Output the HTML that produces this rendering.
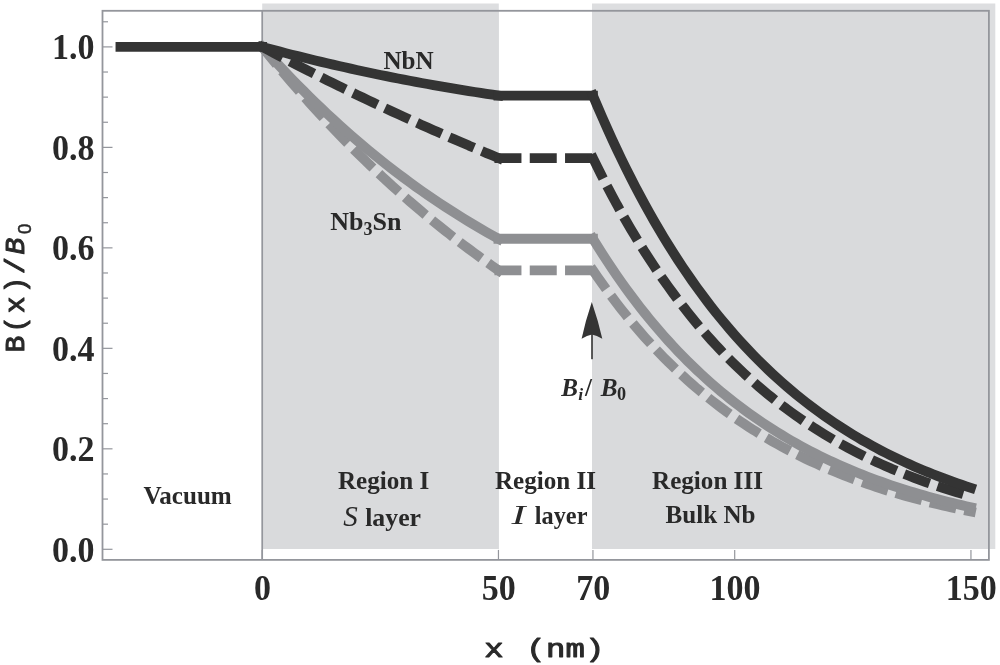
<!DOCTYPE html>
<html lang="en">
<head>
<meta charset="utf-8">
<title>B(x)/B0 field profile</title>
<style>
html,body{margin:0;padding:0;background:#fff;}
body{width:1000px;height:665px;overflow:hidden;}
svg{display:block;filter:blur(0.7px);}
</style>
</head>
<body>
<svg width="1000" height="665" viewBox="0 0 1000 665">
<rect x="0" y="0" width="1000" height="665" fill="#ffffff"/>
<!-- shaded regions -->
<rect x="262.2" y="3.5" width="236.6" height="545.5" fill="#dddee0"/>
<rect x="592.0" y="3.5" width="403.3" height="545.5" fill="#dddee0"/>
<rect x="262.2" y="10.8" width="236.6" height="538.2" fill="#d9dadc"/>
<rect x="592.0" y="10.8" width="396.9" height="538.2" fill="#d9dadc"/>
<!-- frame -->
<rect x="102.5" y="10.8" width="886.4" height="549.1" fill="none" stroke="#94969c" stroke-width="1.8"/>
<line x1="262.2" y1="10.8" x2="262.2" y2="559.9" stroke="#94969c" stroke-width="1.7"/>
<g stroke="#94969c" stroke-width="1.2">
<line x1="102.5" y1="549.30" x2="112.5" y2="549.30"/>
<line x1="102.5" y1="524.18" x2="108.0" y2="524.18"/>
<line x1="102.5" y1="499.06" x2="108.0" y2="499.06"/>
<line x1="102.5" y1="473.94" x2="108.0" y2="473.94"/>
<line x1="102.5" y1="448.82" x2="112.5" y2="448.82"/>
<line x1="102.5" y1="423.70" x2="108.0" y2="423.70"/>
<line x1="102.5" y1="398.58" x2="108.0" y2="398.58"/>
<line x1="102.5" y1="373.46" x2="108.0" y2="373.46"/>
<line x1="102.5" y1="348.34" x2="112.5" y2="348.34"/>
<line x1="102.5" y1="323.22" x2="108.0" y2="323.22"/>
<line x1="102.5" y1="298.10" x2="108.0" y2="298.10"/>
<line x1="102.5" y1="272.98" x2="108.0" y2="272.98"/>
<line x1="102.5" y1="247.86" x2="112.5" y2="247.86"/>
<line x1="102.5" y1="222.74" x2="108.0" y2="222.74"/>
<line x1="102.5" y1="197.62" x2="108.0" y2="197.62"/>
<line x1="102.5" y1="172.50" x2="108.0" y2="172.50"/>
<line x1="102.5" y1="147.38" x2="112.5" y2="147.38"/>
<line x1="102.5" y1="122.26" x2="108.0" y2="122.26"/>
<line x1="102.5" y1="97.14" x2="108.0" y2="97.14"/>
<line x1="102.5" y1="72.02" x2="108.0" y2="72.02"/>
<line x1="102.5" y1="46.90" x2="112.5" y2="46.90"/>
<line x1="102.5" y1="21.78" x2="108.0" y2="21.78"/>
<line x1="262.20" y1="559.9" x2="262.20" y2="549.9"/>
<line x1="498.45" y1="559.9" x2="498.45" y2="549.9"/>
<line x1="592.95" y1="559.9" x2="592.95" y2="549.9"/>
<line x1="734.70" y1="559.9" x2="734.70" y2="549.9"/>
<line x1="970.95" y1="559.9" x2="970.95" y2="549.9"/>
</g>
<g fill="none" stroke-width="9.80" stroke-linecap="square" stroke-linejoin="miter">
<path d="M262.20 46.90 L268.11 54.23 L274.01 61.46 L279.92 68.58 L285.82 75.60 L291.73 82.52 L297.64 89.33 L303.54 96.04 L309.45 102.66 L315.36 109.18 L321.26 115.61 L327.17 121.94 L333.07 128.18 L338.98 134.32 L344.89 140.38 L350.79 146.35 L356.70 152.23 L362.61 158.03 L368.51 163.74 L374.42 169.37 L380.32 174.92 L386.23 180.38 L392.14 185.77 L398.04 191.07 L403.95 196.30 L409.86 201.46 L415.76 206.54 L421.67 211.54 L427.57 216.47 L433.48 221.33 L439.39 226.12 L445.29 230.83 L451.20 235.48 L457.11 240.06 L463.01 244.58 L468.92 249.03 L474.82 253.41 L480.73 257.73 L486.64 261.99 L492.54 266.18 L498.45 270.31" stroke="#8e8f92" stroke-dasharray="17.2 18.1" stroke-dashoffset="-0.9"/>
<path d="M498.45 270.31 L592.95 270.31" stroke="#8e8f92" stroke-dasharray="17.2 18.1" stroke-dashoffset="-0.9"/>
<path d="M592.95 270.31 L597.67 277.20 L602.40 283.92 L607.12 290.47 L611.85 296.86 L616.58 303.10 L621.30 309.17 L626.02 315.10 L630.75 320.89 L635.47 326.53 L640.20 332.03 L644.92 337.39 L649.65 342.62 L654.38 347.73 L659.10 352.70 L663.82 357.56 L668.55 362.29 L673.27 366.91 L678.00 371.41 L682.72 375.80 L687.45 380.09 L692.17 384.26 L696.90 388.34 L701.62 392.31 L706.35 396.19 L711.07 399.97 L715.80 403.66 L720.52 407.25 L725.25 410.76 L729.97 414.18 L734.70 417.52 L739.42 420.77 L744.15 423.94 L748.88 427.04 L753.60 430.06 L758.32 433.00 L763.05 435.87 L767.77 438.67 L772.50 441.40 L777.22 444.07 L781.95 446.67 L786.67 449.20 L791.40 451.67 L796.12 454.08 L800.85 456.43 L805.58 458.73 L810.30 460.96 L815.02 463.14 L819.75 465.27 L824.47 467.35 L829.20 469.37 L833.92 471.34 L838.65 473.27 L843.38 475.14 L848.10 476.98 L852.83 478.76 L857.55 480.50 L862.27 482.20 L867.00 483.86 L871.72 485.47 L876.45 487.05 L881.17 488.59 L885.90 490.09 L890.62 491.55 L895.35 492.97 L900.08 494.36 L904.80 495.72 L909.52 497.04 L914.25 498.33 L918.97 499.59 L923.70 500.82 L928.42 502.02 L933.15 503.18 L937.88 504.32 L942.60 505.43 L947.33 506.52 L952.05 507.57 L956.77 508.60 L961.50 509.61 L966.22 510.59 L970.95 511.54" stroke="#8e8f92" stroke-dasharray="17.2 18.1" stroke-dashoffset="-0.9"/>
<path d="M262.20 46.90 L268.11 53.49 L274.01 59.97 L279.92 66.34 L285.82 72.62 L291.73 78.78 L297.64 84.85 L303.54 90.81 L309.45 96.68 L315.36 102.45 L321.26 108.12 L327.17 113.70 L333.07 119.18 L338.98 124.57 L344.89 129.86 L350.79 135.07 L356.70 140.19 L362.61 145.22 L368.51 150.16 L374.42 155.01 L380.32 159.78 L386.23 164.47 L392.14 169.07 L398.04 173.59 L403.95 178.03 L409.86 182.39 L415.76 186.66 L421.67 190.87 L427.57 194.99 L433.48 199.03 L439.39 203.00 L445.29 206.90 L451.20 210.72 L457.11 214.47 L463.01 218.15 L468.92 221.75 L474.82 225.28 L480.73 228.75 L486.64 232.14 L492.54 235.47 L498.45 238.73" stroke="#8e8f92"/>
<path d="M498.45 238.73 L592.95 238.73" stroke="#8e8f92"/>
<path d="M592.95 238.73 L597.67 246.39 L602.40 253.87 L607.12 261.17 L611.85 268.28 L616.58 275.22 L621.30 281.99 L626.02 288.59 L630.75 295.02 L635.47 301.30 L640.20 307.42 L644.92 313.40 L649.65 319.22 L654.38 324.90 L659.10 330.44 L663.82 335.85 L668.55 341.12 L673.27 346.26 L678.00 351.27 L682.72 356.16 L687.45 360.93 L692.17 365.58 L696.90 370.11 L701.62 374.54 L706.35 378.85 L711.07 383.06 L715.80 387.17 L720.52 391.17 L725.25 395.07 L729.97 398.88 L734.70 402.59 L739.42 406.22 L744.15 409.75 L748.88 413.20 L753.60 416.56 L758.32 419.83 L763.05 423.03 L767.77 426.15 L772.50 429.19 L777.22 432.15 L781.95 435.05 L786.67 437.87 L791.40 440.62 L796.12 443.30 L800.85 445.92 L805.58 448.47 L810.30 450.96 L815.02 453.39 L819.75 455.76 L824.47 458.07 L829.20 460.32 L833.92 462.52 L838.65 464.66 L843.38 466.75 L848.10 468.79 L852.83 470.77 L857.55 472.71 L862.27 474.60 L867.00 476.45 L871.72 478.25 L876.45 480.00 L881.17 481.71 L885.90 483.38 L890.62 485.01 L895.35 486.60 L900.08 488.14 L904.80 489.65 L909.52 491.13 L914.25 492.56 L918.97 493.96 L923.70 495.33 L928.42 496.66 L933.15 497.96 L937.88 499.23 L942.60 500.47 L947.33 501.67 L952.05 502.85 L956.77 503.99 L961.50 505.11 L966.22 506.20 L970.95 507.27" stroke="#8e8f92"/>
<path d="M262.20 46.90 L268.11 50.03 L274.01 53.14 L279.92 56.23 L285.82 59.30 L291.73 62.36 L297.64 65.39 L303.54 68.41 L309.45 71.40 L315.36 74.38 L321.26 77.34 L327.17 80.28 L333.07 83.20 L338.98 86.11 L344.89 88.99 L350.79 91.86 L356.70 94.71 L362.61 97.54 L368.51 100.36 L374.42 103.15 L380.32 105.93 L386.23 108.70 L392.14 111.44 L398.04 114.17 L403.95 116.88 L409.86 119.57 L415.76 122.25 L421.67 124.91 L427.57 127.56 L433.48 130.18 L439.39 132.80 L445.29 135.39 L451.20 137.97 L457.11 140.53 L463.01 143.08 L468.92 145.61 L474.82 148.13 L480.73 150.62 L486.64 153.11 L492.54 155.58 L498.45 158.03" stroke="#343434" stroke-dasharray="17.2 18.1" stroke-dashoffset="-0.9"/>
<path d="M498.45 158.03 L592.95 158.03" stroke="#343434" stroke-dasharray="17.2 18.1" stroke-dashoffset="-0.9"/>
<path d="M592.95 158.03 L597.67 167.69 L602.40 177.11 L607.12 186.30 L611.85 195.26 L616.58 204.01 L621.30 212.53 L626.02 220.85 L630.75 228.96 L635.47 236.86 L640.20 244.58 L644.92 252.10 L649.65 259.44 L654.38 266.60 L659.10 273.58 L663.82 280.38 L668.55 287.02 L673.27 293.50 L678.00 299.82 L682.72 305.98 L687.45 311.98 L692.17 317.84 L696.90 323.56 L701.62 329.13 L706.35 334.57 L711.07 339.87 L715.80 345.04 L720.52 350.08 L725.25 355.00 L729.97 359.80 L734.70 364.48 L739.42 369.04 L744.15 373.49 L748.88 377.83 L753.60 382.07 L758.32 386.19 L763.05 390.22 L767.77 394.15 L772.50 397.98 L777.22 401.72 L781.95 405.36 L786.67 408.91 L791.40 412.38 L796.12 415.76 L800.85 419.06 L805.58 422.27 L810.30 425.41 L815.02 428.47 L819.75 431.45 L824.47 434.36 L829.20 437.20 L833.92 439.97 L838.65 442.67 L843.38 445.30 L848.10 447.87 L852.83 450.37 L857.55 452.81 L862.27 455.20 L867.00 457.52 L871.72 459.79 L876.45 462.00 L881.17 464.15 L885.90 466.25 L890.62 468.30 L895.35 470.30 L900.08 472.25 L904.80 474.16 L909.52 476.01 L914.25 477.82 L918.97 479.59 L923.70 481.31 L928.42 482.99 L933.15 484.62 L937.88 486.22 L942.60 487.78 L947.33 489.30 L952.05 490.78 L956.77 492.22 L961.50 493.63 L966.22 495.01 L970.95 496.35" stroke="#343434" stroke-dasharray="17.2 18.1" stroke-dashoffset="-0.9"/>
<path d="M120.45 46.90 L262.20 46.90" stroke="#343434"/>
<path d="M262.20 46.90 L268.11 48.48 L274.01 50.05 L279.92 51.59 L285.82 53.12 L291.73 54.63 L297.64 56.11 L303.54 57.58 L309.45 59.03 L315.36 60.46 L321.26 61.87 L327.17 63.26 L333.07 64.63 L338.98 65.98 L344.89 67.32 L350.79 68.63 L356.70 69.93 L362.61 71.21 L368.51 72.47 L374.42 73.71 L380.32 74.93 L386.23 76.14 L392.14 77.32 L398.04 78.49 L403.95 79.64 L409.86 80.77 L415.76 81.88 L421.67 82.97 L427.57 84.05 L433.48 85.10 L439.39 86.14 L445.29 87.16 L451.20 88.16 L457.11 89.15 L463.01 90.12 L468.92 91.07 L474.82 92.00 L480.73 92.91 L486.64 93.80 L492.54 94.68 L498.45 95.54" stroke="#343434"/>
<path d="M498.45 95.54 L592.95 95.54" stroke="#343434"/>
<path d="M592.95 95.54 L597.67 106.74 L602.40 117.67 L607.12 128.33 L611.85 138.72 L616.58 148.86 L621.30 158.75 L626.02 168.39 L630.75 177.79 L635.47 186.97 L640.20 195.91 L644.92 204.64 L649.65 213.15 L654.38 221.45 L659.10 229.54 L663.82 237.44 L668.55 245.14 L673.27 252.65 L678.00 259.97 L682.72 267.11 L687.45 274.08 L692.17 280.88 L696.90 287.50 L701.62 293.97 L706.35 300.27 L711.07 306.42 L715.80 312.42 L720.52 318.27 L725.25 323.97 L729.97 329.53 L734.70 334.96 L739.42 340.25 L744.15 345.41 L748.88 350.45 L753.60 355.36 L758.32 360.15 L763.05 364.82 L767.77 369.37 L772.50 373.81 L777.22 378.15 L781.95 382.37 L786.67 386.49 L791.40 390.51 L796.12 394.43 L800.85 398.26 L805.58 401.99 L810.30 405.62 L815.02 409.17 L819.75 412.63 L824.47 416.00 L829.20 419.30 L833.92 422.51 L838.65 425.64 L843.38 428.69 L848.10 431.67 L852.83 434.57 L857.55 437.40 L862.27 440.17 L867.00 442.86 L871.72 445.49 L876.45 448.05 L881.17 450.55 L885.90 452.99 L890.62 455.37 L895.35 457.69 L900.08 459.95 L904.80 462.16 L909.52 464.31 L914.25 466.41 L918.97 468.45 L923.70 470.45 L928.42 472.40 L933.15 474.29 L937.88 476.15 L942.60 477.95 L947.33 479.71 L952.05 481.43 L956.77 483.11 L961.50 484.74 L966.22 486.34 L970.95 487.89" stroke="#343434"/>
</g>
<!-- arrow -->
<g fill="#343434" stroke="none">
<path d="M591.8 302 Q598.3 321 602.3 338.8 Q596.5 335.4 591.9 334.4 Q587.2 335.4 581.6 338.8 Q585.4 321 591.8 302 Z"/>
<rect x="591.2" y="334" width="1.6" height="25.2"/>
</g>
<g font-family="'Liberation Serif', serif" font-weight="bold" fill="#292929">
<g font-size="36.6">
<text transform="translate(94.6 561.7) scale(0.93 1)" text-anchor="end">0.0</text>
<text transform="translate(94.6 461.2) scale(0.93 1)" text-anchor="end">0.2</text>
<text transform="translate(94.6 360.7) scale(0.93 1)" text-anchor="end">0.4</text>
<text transform="translate(94.6 260.3) scale(0.93 1)" text-anchor="end">0.6</text>
<text transform="translate(94.6 159.8) scale(0.93 1)" text-anchor="end">0.8</text>
<text transform="translate(94.6 59.3) scale(0.93 1)" text-anchor="end">1.0</text>
<text transform="translate(262.5 600) scale(0.93 1)" text-anchor="middle">0</text>
<text transform="translate(498.7 600) scale(0.93 1)" text-anchor="middle">50</text>
<text transform="translate(593.2 600) scale(0.93 1)" text-anchor="middle">70</text>
<text transform="translate(735.0 600) scale(0.93 1)" text-anchor="middle">100</text>
<text transform="translate(971.2 600) scale(0.93 1)" text-anchor="middle">150</text>
</g>
<g font-size="25.1" text-anchor="middle">
<text x="408.5" y="69">NbN</text>
<text x="330.2" y="229.7" text-anchor="start" font-size="26">Nb<tspan font-size="18" dy="4.8">3</tspan><tspan dy="-4.8">Sn</tspan></text>
<text x="187.6" y="504.2">Vacuum</text>
<text x="383.6" y="489.4">Region I</text>
<text x="343.3" y="526.2" text-anchor="start" font-style="italic" font-weight="normal" font-size="29">S</text>
<text x="365.2" y="526.2" text-anchor="start" font-size="25.8">layer</text>
<text x="545.5" y="489.4">Region II</text>
<text transform="translate(511.6 523.5) scale(1.5 1)" x="0" y="0" text-anchor="start" font-style="italic" font-weight="normal" font-size="28">I</text>
<text x="534.8" y="523.5" text-anchor="start" font-size="24.3">layer</text>
<text x="707.5" y="489.4">Region III</text>
<text x="710.5" y="522.7">Bulk Nb</text>
<g text-anchor="start" font-style="italic">
<text x="561.2" y="395.6">B</text>
<text x="578.2" y="400" font-size="17.6">i</text>
<text x="585" y="395.6" font-style="normal">/</text>
<text x="600.8" y="395.6">B</text>
<text x="617" y="400" font-size="18.2" font-style="normal">0</text>
</g>
</g>
</g>
<g font-family="'Liberation Mono', monospace" fill="#292929" stroke="#292929" stroke-width="1.0" stroke-linejoin="round">
<g font-size="26.5">
<text transform="translate(484.3 656.5) scale(1.22 1)" x="0" y="0">x</text>
<text transform="translate(526.3 656.5) scale(1.22 1)" x="0" y="0" letter-spacing="0.16">(nm)</text>
</g>
<g transform="translate(23.7 353) rotate(-90)" font-size="27.5">
<text transform="translate(0.6 0) scale(1.02 1)" x="0" y="0" letter-spacing="2.72">B(x)/<tspan font-style="italic">B</tspan></text>
<text x="119.1" y="7.6" font-size="18.5" font-family="'Liberation Sans', sans-serif" stroke-width="0.5">0</text>
</g>
</g>
</svg>
</body>
</html>
